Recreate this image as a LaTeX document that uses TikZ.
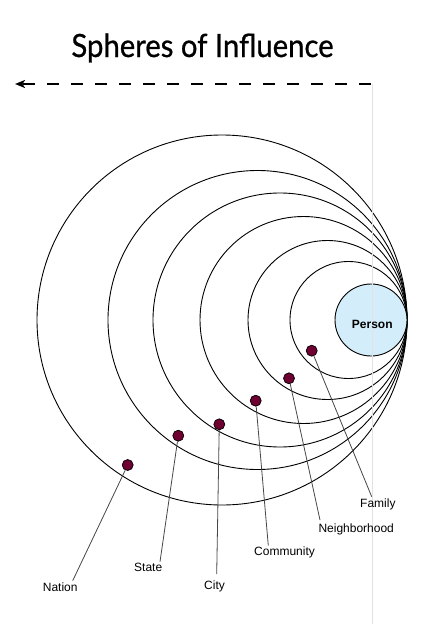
\documentclass[tikz,border=0pt]{standalone}
\usepackage{fontspec}
\setmainfont{Liberation Sans}
\newfontfamily\titlefont[FakeBold=0.8]{Lato}
\usetikzlibrary{arrows.meta}
\definecolor{dotred}{RGB}{110,0,50}
\definecolor{personblue}{RGB}{211,238,250}
\definecolor{guide}{RGB}{226,226,226}
\definecolor{leader}{RGB}{70,70,70}
\tikzset{
  sphere/.style={draw=black, line width=0.9pt},
  dotnode/.style={circle, draw=black, line width=0.7pt, fill=dotred, minimum size=11pt, inner sep=0pt},
  lab/.style={anchor=base west, inner sep=0pt, font=\fontsize{12}{14}\selectfont},
  leaderline/.style={draw=leader, line width=0.8pt},
}
\begin{document}
\begin{tikzpicture}[x=1pt,y=-1pt]
\useasboundingbox (0,0) rectangle (436,624);
% title
\node[anchor=base, inner sep=0pt, font=\titlefont\fontsize{32}{38}\selectfont] (title) at (202.5,57) {\scalebox{0.915}[1]{Spheres of Influence}};
% guide line and arrow
\coordinate (gtop) at (372.5,84);
\coordinate (gbot) at (372.5,624);
\coordinate (arrowstart) at (371,84);
\coordinate (arrowend) at (15,84);
% spheres
\draw[sphere] (222,320) circle[radius=185pt];
\draw[sphere] (257.5,320) circle[radius=149.5pt];
\draw[sphere] (280,320) circle[radius=127pt];
\draw[sphere] (303.5,320) circle[radius=103.5pt];
\draw[sphere] (327.5,320) circle[radius=79.5pt];
\draw[sphere] (348.5,320) circle[radius=58.5pt];
\node[circle, draw=black, line width=0.9pt, fill=personblue, minimum size=72pt, inner sep=0pt] (personc) at (371,320) {};
\draw[guide, line width=1.5pt] (gtop) -- (gbot);
\node[inner sep=0pt, anchor=base, font=\bfseries\fontsize{12}{14}\selectfont] (person) at (372.3,328) {Person};
\draw[line width=2pt, dash pattern=on 12pt off 12pt, -{Stealth[length=10pt,width=8pt,inset=2.5pt]}] (arrowstart) -- (arrowend);
% dots
\node[dotnode] (dNation) at (127.7,465) {};
\node[dotnode] (dState) at (178.3,435.7) {};
\node[dotnode] (dCity) at (219.3,424.3) {};
\node[dotnode] (dCommunity) at (255.7,400.7) {};
\node[dotnode] (dNeighborhood) at (289,378.3) {};
\node[dotnode] (dFamily) at (311.7,350.7) {};
% labels
\node[lab] (lNation) at (42.7,591.3) {Nation};
\node[lab] (lState) at (134,571.3) {State};
\node[lab] (lCity) at (204,589) {City};
\node[lab] (lCommunity) at (254,555.3) {Community};
\node[lab] (lNeighborhood) at (318.3,532) {Neighborhood};
\node[lab] (lFamily) at (360,507) {Family};
% leader ends
\coordinate (eNation) at (72.7,580.7);
\coordinate (eState) at (160,561.7);
\coordinate (eCity) at (216.7,574);
\coordinate (eCommunity) at (268.3,545.7);
\coordinate (eNeighborhood) at (320,520);
\coordinate (eFamily) at (371.7,496.7);
\draw[leaderline] (dNation) -- (eNation);
\draw[leaderline] (dState) -- (eState);
\draw[leaderline] (dCity) -- (eCity);
\draw[leaderline] (dCommunity) -- (eCommunity);
\draw[leaderline] (dNeighborhood) -- (eNeighborhood);
\draw[leaderline] (dFamily) -- (eFamily);
\end{tikzpicture}
\end{document}
